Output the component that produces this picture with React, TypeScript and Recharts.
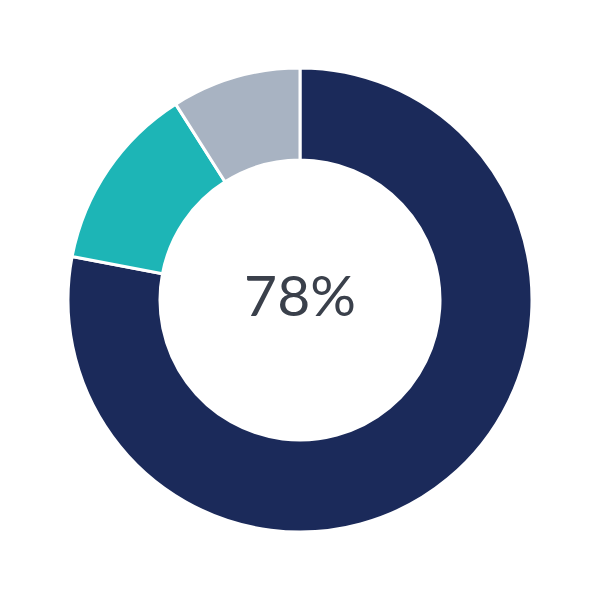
import React from "react";
import { PieChart, Pie, Cell } from "recharts";

const segmentNames = ["Primary", "Secondary", "Other"];
const segmentValues = [78, 13, 9];
const segmentColors = ["#1b2a5a", "#1db5b6", "#a8b3c2"];
const centerLabel = "78%";

const data = segmentNames.map((name, i) => ({ name, value: segmentValues[i] }));

export default function App(): React.ReactElement {
  return (
    <div style={{ width: 600, height: 600, margin: -8, background: "#fff" }}>
      <PieChart width={600} height={600} margin={{ top: 0, right: 0, bottom: 0, left: 0 }}>
        <Pie
          data={data}
          dataKey="value"
          nameKey="name"
          cx={300}
          cy={300}
          innerRadius={140}
          outerRadius={232}
          startAngle={90}
          endAngle={-270}
          stroke="#ffffff"
          strokeWidth={3}
          isAnimationActive={false}
        >
          {data.map((d, i) => (
            <Cell key={d.name} fill={segmentColors[i]} />
          ))}
        </Pie>
        <text
          x={300}
          y={294}
          textAnchor="middle"
          dominantBaseline="central"
          style={{ fontFamily: "Lato, sans-serif", fontSize: 57, fill: "#3a404b" }}
        >
          {centerLabel}
        </text>
      </PieChart>
    </div>
  );
}
